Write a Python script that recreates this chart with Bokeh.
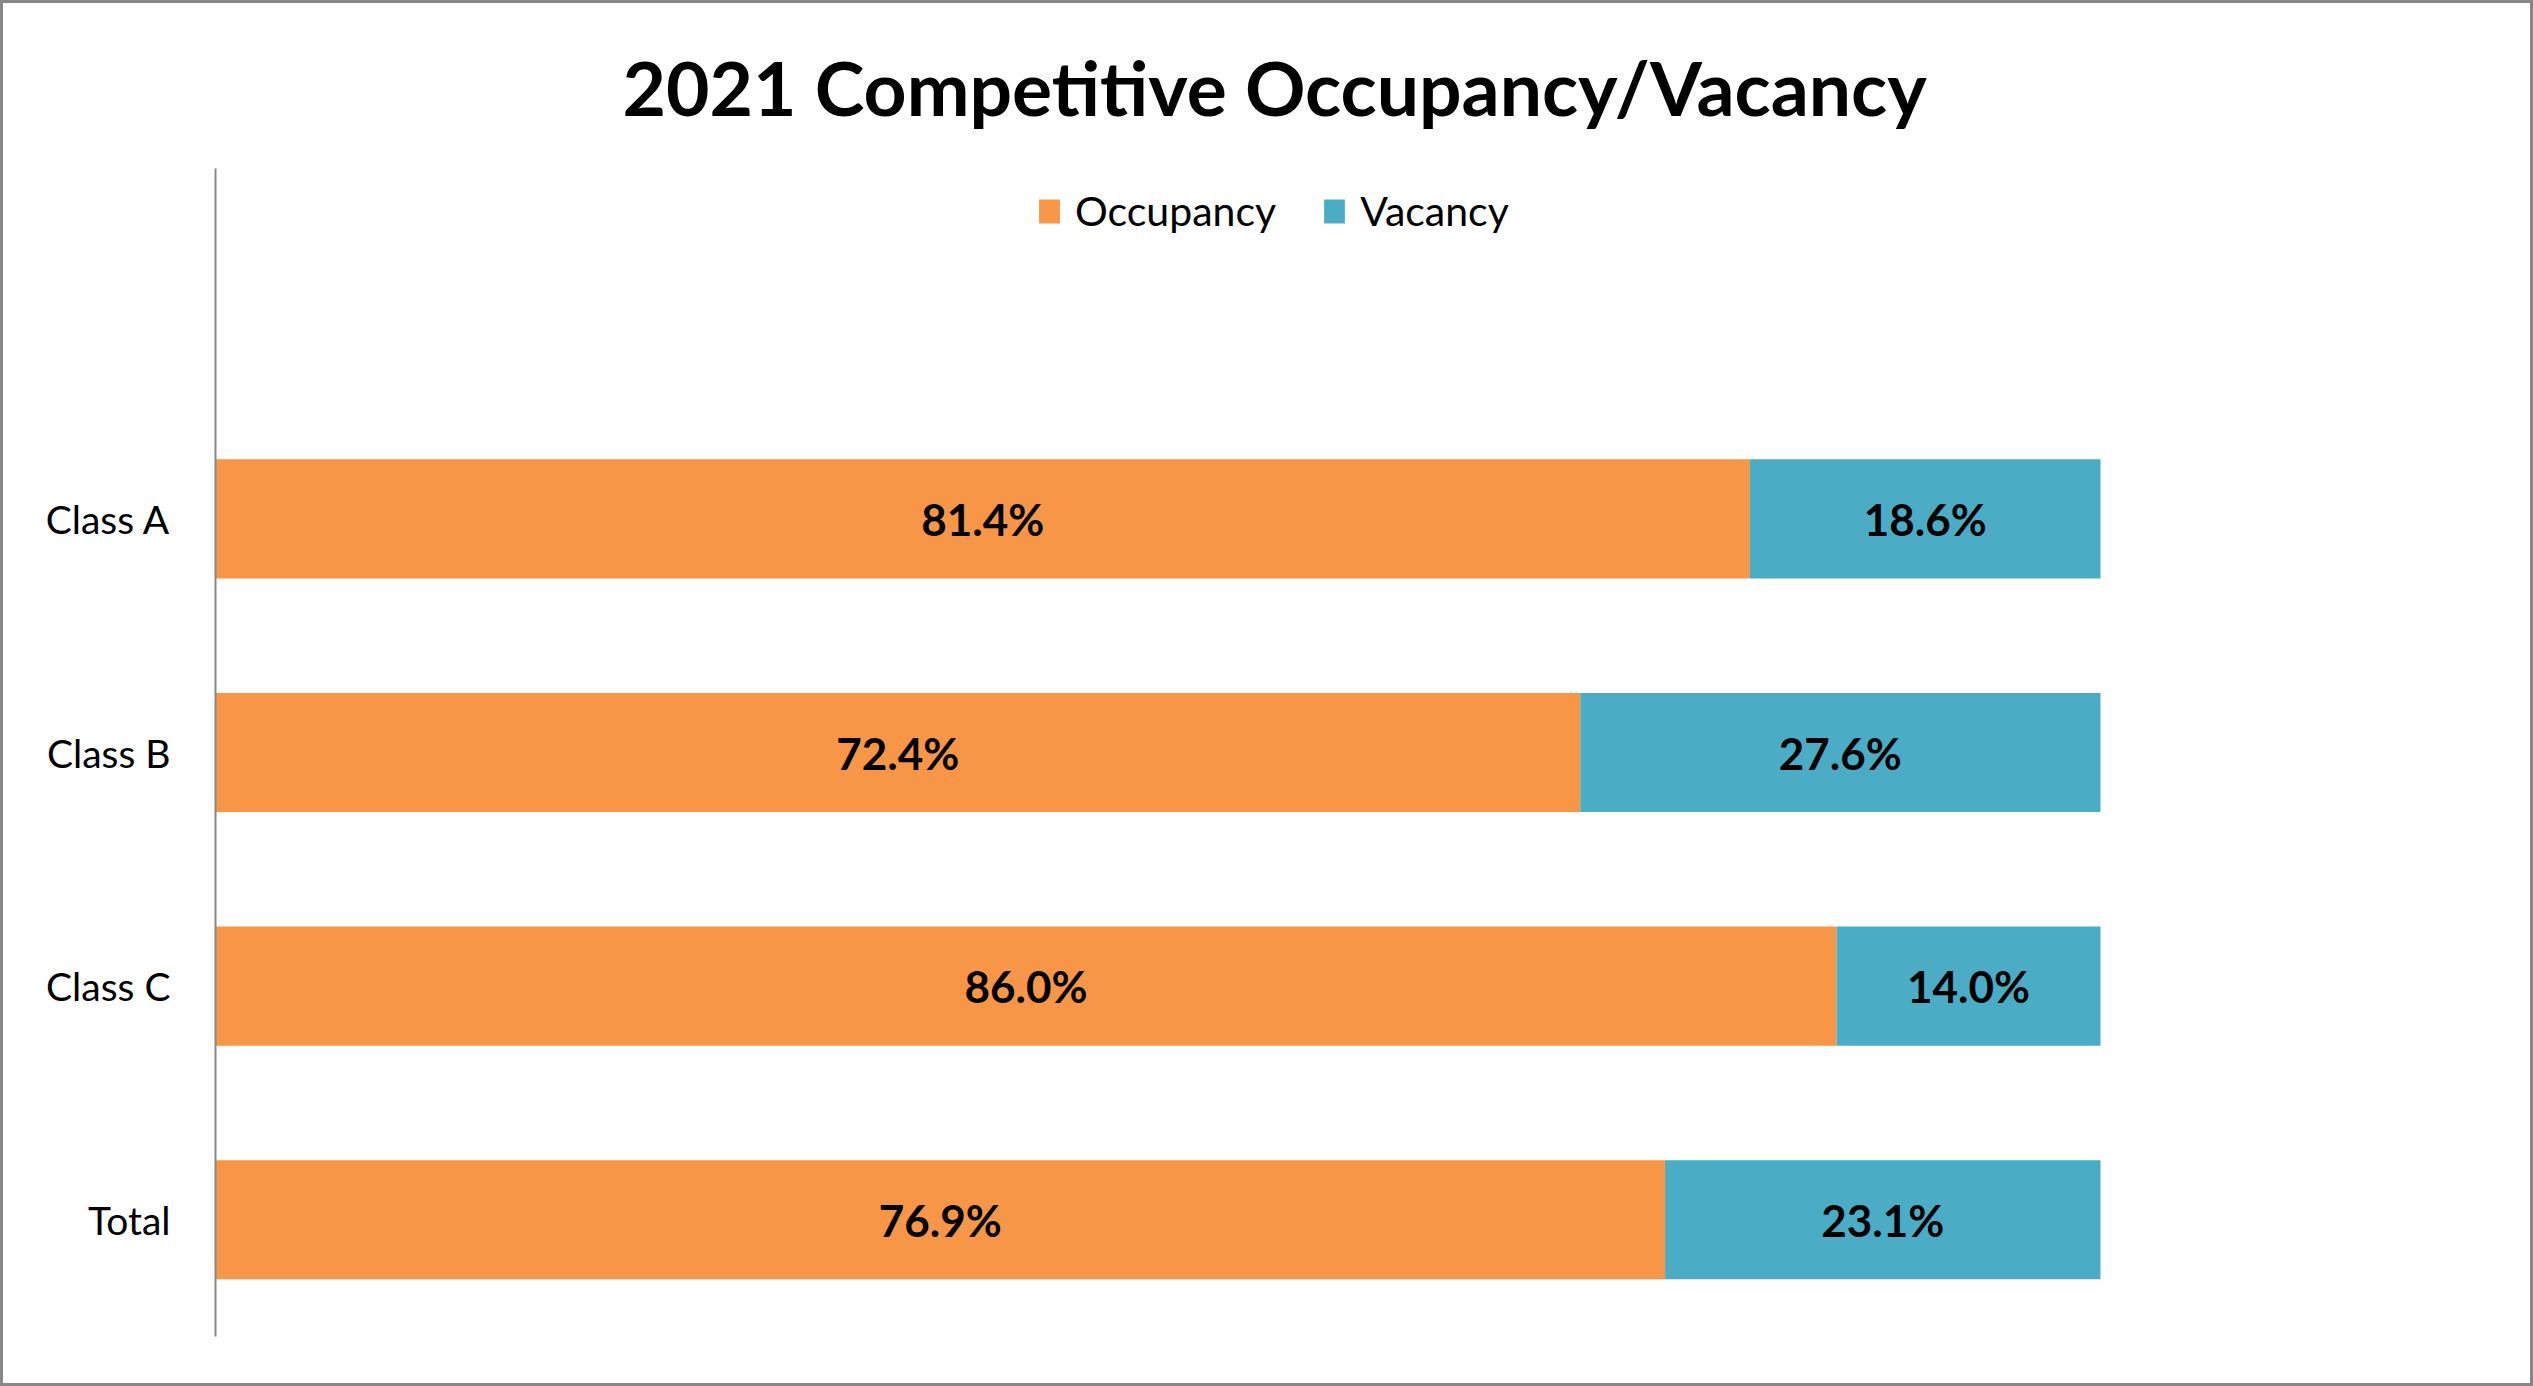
from bokeh.plotting import figure
from bokeh.models import ColumnDataSource, FactorRange, Range1d, LabelSet, Legend, LegendItem
from bokeh.core.properties import value
from bokeh.embed import file_html
from bokeh.resources import INLINE

categories = ["Class A", "Class B", "Class C", "Total"]
occupancy = [0.814, 0.724, 0.860, 0.769]
vacancy = [0.186, 0.276, 0.140, 0.231]
series_names = ["Occupancy", "Vacancy"]
title_text = "2021 Competitive Occupancy/Vacancy"

ORANGE = "#F79646"
BLUE = "#4BACC6"
FONT = "Lato"

# bottom-to-top factor order, with an empty slot on top (legend area)
factors = list(reversed(categories)) + [" "]

occ_left = [0.0] * len(categories)
occ_right = list(occupancy)
vac_left = list(occupancy)
vac_right = [o + v for o, v in zip(occupancy, vacancy)]

src = ColumnDataSource(dict(
    cat=categories,
    occ_left=occ_left, occ_right=occ_right,
    vac_left=vac_left, vac_right=vac_right,
    occ_mid=[(a + b) / 2 for a, b in zip(occ_left, occ_right)],
    vac_mid=[(a + b) / 2 for a, b in zip(vac_left, vac_right)],
    occ_txt=[f"{v*100:.1f}%" for v in occupancy],
    vac_txt=[f"{v*100:.1f}%" for v in vacancy],
))

W, H = 2533, 1386
p = figure(width=W, height=H, output_backend="svg", toolbar_location=None,
           y_range=FactorRange(factors=factors), x_range=Range1d(0, 1.2),
           x_axis_location=None, min_border_left=215, min_border_right=56,
           min_border_top=168, min_border_bottom=50)
p.styles = {"background-color": "white", "box-shadow": "inset 0 0 0 3px #878787"}
p.outline_line_color = None
p.xgrid.visible = False
p.ygrid.visible = False
p.background_fill_color = "white"
p.border_fill_alpha = 0

r1 = p.hbar(y="cat", left="occ_left", right="occ_right", height=0.51,
            source=src, fill_color=ORANGE, line_color=None)
r2 = p.hbar(y="cat", left="vac_left", right="vac_right", height=0.51,
            source=src, fill_color=BLUE, line_color=None)

for xcol, tcol in (("occ_mid", "occ_txt"), ("vac_mid", "vac_txt")):
    p.add_layout(LabelSet(x=xcol, y="cat", text=tcol, source=src,
                          text_align="center", text_baseline="middle",
                          text_font=value(FONT), text_font_size="44px",
                          text_font_style="bold", text_color="black"))

ax = p.yaxis[0]
ax.axis_line_color = "#878787"
ax.axis_line_width = 2
ax.major_tick_line_color = None
ax.minor_tick_line_color = None
ax.major_label_standoff = 39
ax.major_label_text_font = FONT
ax.major_label_text_font_size = "39px"
ax.major_label_text_color = "black"

legend = Legend(items=[LegendItem(label=series_names[0], renderers=[r1]),
                       LegendItem(label=series_names[1], renderers=[r2])],
                orientation="horizontal", location=(821, 1101),
                padding=0, margin=0, spacing=45, label_standoff=13,
                glyph_width=26, glyph_height=30,
                label_text_font=FONT, label_text_font_size="41px",
                label_text_color="black", border_line_color=None,
                background_fill_alpha=0)
p.add_layout(legend, "center")

p.title.text = title_text
p.title.text_font = FONT
p.title.text_font_size = "75px"
p.title.text_font_style = "bold"
p.title.text_color = "black"
p.title.align = "left"
p.title.offset = 407
p.title.standoff = 74

open("out.html", "w").write(file_html(p, INLINE))
